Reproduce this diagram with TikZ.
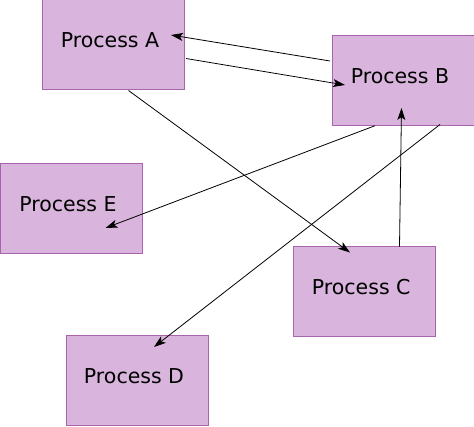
\documentclass[tikz,border=0pt]{standalone}
\usepackage{fontspec}
\setmainfont{DejaVu Sans}
\usetikzlibrary{arrows.meta}
\definecolor{procfill}{RGB}{217,180,220}
\definecolor{procline}{RGB}{168,100,172}

\begin{document}
\begin{tikzpicture}[x=1pt,y=-1pt,
  proc/.style={draw=procline,fill=procfill,line width=1pt,minimum width=142pt,minimum height=90pt,inner sep=0pt},
  txt/.style={font=\fontsize{20.5pt}{24pt}\selectfont,inner sep=0pt},
  flow/.style={line width=0.8pt,-{Stealth[length=12pt,width=8pt,inset=3pt]}}]
\useasboundingbox (0,0) rectangle (474,426);
\node[proc,label={[txt,xshift=-3pt,yshift=4.5pt]center:Process A}] (pa) at (113,44.5) {};
\node[proc,label={[txt,xshift=-3pt,yshift=4.5pt]center:Process B}] (pb) at (403,80.5) {};
\node[proc,label={[txt,xshift=-3pt,yshift=4.5pt]center:Process C}] (pc) at (364.2,291.5) {};
\node[proc,label={[txt,xshift=-3pt,yshift=4.5pt]center:Process D}] (pd) at (137,380.5) {};
\node[proc,label={[txt,xshift=-3pt,yshift=4.5pt]center:Process E}] (pe) at (71,208.3) {};
\draw[flow] ([shift={(-73pt,19.5pt)}]pb.center) -- ([shift={(58pt,9.5pt)}]pa.center);
\draw[flow] ([shift={(73pt,-14pt)}]pa.center) -- ([shift={(-58pt,-4.5pt)}]pb.center);
\draw[flow] ([shift={(15.5pt,-46pt)}]pa.center) -- ([shift={(-14.2pt,39pt)}]pc.center);
\draw[flow] ([shift={(-28pt,-45.2pt)}]pb.center) -- ([shift={(34.5pt,-19.7pt)}]pe.center);
\draw[flow] ([shift={(37pt,-44pt)}]pb.center) -- ([shift={(17pt,33.5pt)}]pd.center);
\draw[flow] ([shift={(35.3pt,45pt)}]pc.center) -- ([shift={(-1.5pt,-27.5pt)}]pb.center);
\end{tikzpicture}
\end{document}
